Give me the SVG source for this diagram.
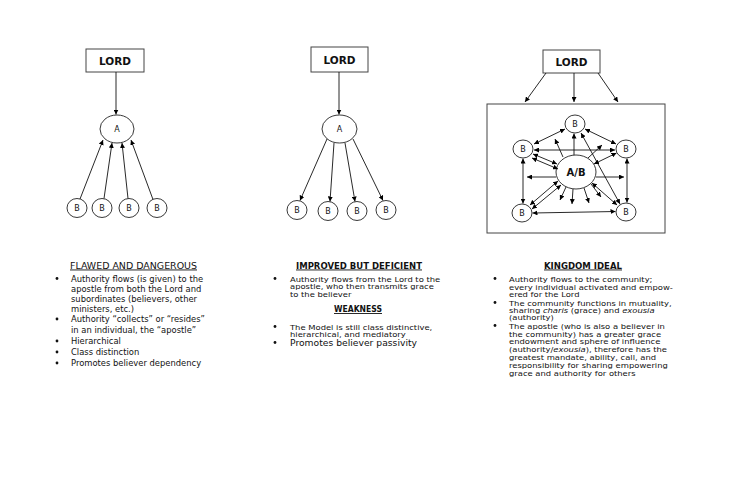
<svg xmlns="http://www.w3.org/2000/svg" width="754" height="480" viewBox="0 0 754 480">
<defs>
<marker id="ah" viewBox="0 0 10 10" refX="10" refY="5" markerWidth="5" markerHeight="5" markerUnits="userSpaceOnUse" orient="auto-start-reverse"><path d="M0,0 L10,5 L0,10 z" fill="#000"/></marker>
<style>
.box{fill:#fff;stroke:#444;stroke-width:1}
.nd{fill:#fff;stroke:#222;stroke-width:0.9}
.lord{font-family:"DejaVu Sans",sans-serif;font-weight:bold;font-size:10.5px;fill:#111;text-anchor:middle}
.lbl{font-family:"DejaVu Sans",sans-serif;font-size:8px;fill:#111;text-anchor:middle}
.lblb{font-family:"DejaVu Sans",sans-serif;font-weight:bold;font-size:10px;fill:#111;text-anchor:middle}
.c line{stroke:#111;stroke-width:0.9}
.s{marker-end:url(#ah)}
.d{marker-start:url(#ah);marker-end:url(#ah)}
.t{font-family:"DejaVu Sans",sans-serif;font-size:8.4px;fill:#111}
.tn{font-family:"DejaVu Sans",sans-serif;font-size:7.6px;fill:#111}
.h{font-family:"DejaVu Sans",sans-serif;font-size:9px;fill:#111;text-decoration:underline}
.hb{font-family:"DejaVu Sans",sans-serif;font-weight:bold;font-size:9px;fill:#111;text-decoration:underline}
.bul{fill:#111}
</style>
</defs>
<rect width="754" height="480" fill="#fff"/>

<!-- Left diagram -->
<g id="left-lord"><rect class="box" x="86" y="49" width="58" height="23"/><text class="lord" x="115" y="65">LORD</text></g>
<g id="left-a"><ellipse class="nd" cx="117" cy="129" rx="17" ry="14"/><text class="lbl" x="117" y="132">A</text></g>
<g id="left-b1"><ellipse class="nd" cx="77" cy="208" rx="10" ry="9.5"/><text class="lbl" x="77" y="211">B</text></g>
<g id="left-b2"><ellipse class="nd" cx="102" cy="208" rx="10" ry="9.5"/><text class="lbl" x="102" y="211">B</text></g>
<g id="left-b3"><ellipse class="nd" cx="129" cy="208" rx="10" ry="9.5"/><text class="lbl" x="129" y="211">B</text></g>
<g id="left-b4"><ellipse class="nd" cx="157" cy="208" rx="10" ry="9.5"/><text class="lbl" x="157" y="211">B</text></g>

<!-- Middle diagram -->
<g id="mid-lord"><rect class="box" x="311" y="47" width="57" height="25"/><text class="lord" x="339.5" y="64">LORD</text></g>
<g id="mid-a"><ellipse class="nd" cx="339.5" cy="129" rx="17.5" ry="14"/><text class="lbl" x="339.5" y="132">A</text></g>
<g id="mid-b1"><ellipse class="nd" cx="297" cy="210" rx="10" ry="9.5"/><text class="lbl" x="297" y="213">B</text></g>
<g id="mid-b2"><ellipse class="nd" cx="328" cy="211" rx="10" ry="9.5"/><text class="lbl" x="328" y="214">B</text></g>
<g id="mid-b3"><ellipse class="nd" cx="357" cy="211" rx="10" ry="9.5"/><text class="lbl" x="357" y="214">B</text></g>
<g id="mid-b4"><ellipse class="nd" cx="386" cy="210" rx="10" ry="9.5"/><text class="lbl" x="386" y="213">B</text></g>

<!-- Right diagram -->
<g id="right-lord"><rect class="box" x="543" y="50" width="57" height="23"/><text class="lord" x="571.5" y="65.5">LORD</text></g>
<g id="right-community"><rect class="box" x="487" y="104" width="178" height="129"/></g>
<g id="right-btop"><ellipse class="nd" cx="575" cy="124" rx="10" ry="9"/><text class="lbl" x="575" y="127">B</text></g>
<g id="right-bleft"><ellipse class="nd" cx="523" cy="149" rx="10" ry="9"/><text class="lbl" x="523" y="152">B</text></g>
<g id="right-bright"><ellipse class="nd" cx="626" cy="149" rx="10" ry="9"/><text class="lbl" x="626" y="152">B</text></g>
<g id="right-bbl"><ellipse class="nd" cx="522" cy="213" rx="10" ry="9"/><text class="lbl" x="522" y="216">B</text></g>
<g id="right-bbr"><ellipse class="nd" cx="626" cy="212" rx="10" ry="9"/><text class="lbl" x="626" y="215">B</text></g>
<g id="right-ab"><ellipse class="nd" cx="576" cy="172" rx="20" ry="17"/><text class="lblb" x="576" y="176">A/B</text></g>

<g id="connectors" class="c">
<!-- left -->
<line class="s" x1="116" y1="72" x2="116" y2="114.5"/>
<line class="s" x1="80" y1="199" x2="103" y2="140"/>
<line class="s" x1="104" y1="198.5" x2="112" y2="143"/>
<line class="s" x1="128" y1="198.5" x2="122" y2="143"/>
<line class="s" x1="153" y1="199.5" x2="131" y2="140"/>
<!-- middle -->
<line class="s" x1="339" y1="72" x2="339" y2="114.5"/>
<line class="s" x1="327" y1="139" x2="300" y2="200.5"/>
<line class="s" x1="334" y1="143" x2="330" y2="201.5"/>
<line class="s" x1="345" y1="143" x2="355" y2="201.5"/>
<line class="s" x1="353" y1="139" x2="383" y2="200.5"/>
<!-- right: from LORD -->
<line class="s" x1="546" y1="73" x2="525" y2="102"/>
<line class="s" x1="574" y1="73" x2="574" y2="102"/>
<line class="s" x1="598" y1="73" x2="618" y2="102"/>
<!-- right: community -->
<line class="d" x1="534" y1="144" x2="565" y2="129"/>
<line class="d" x1="585" y1="129" x2="616" y2="144"/>
<line class="d" x1="534" y1="150" x2="615" y2="150"/>
<line class="s" x1="574" y1="155" x2="574" y2="133.5"/>
<line class="d" x1="523" y1="158.5" x2="523" y2="203.5"/>
<line class="d" x1="627" y1="158.5" x2="627" y2="202.5"/>
<line class="d" x1="532.5" y1="213" x2="615.5" y2="211.5"/>
<line class="d" x1="581" y1="133" x2="620" y2="204"/>
<line class="d" x1="533" y1="154" x2="557" y2="164"/>
<line class="d" x1="532" y1="158" x2="558" y2="169"/>
<line class="d" x1="594" y1="164" x2="616.5" y2="153"/>
<line class="d" x1="558" y1="181" x2="530" y2="205"/>
<line class="d" x1="561" y1="185" x2="532" y2="209"/>
<line class="d" x1="592" y1="183" x2="617" y2="205"/>
<line class="s" x1="563" y1="157" x2="555" y2="139"/>
<line class="s" x1="588" y1="158" x2="602" y2="145"/>
<line class="s" x1="556" y1="177" x2="527" y2="177"/>
<line class="s" x1="596" y1="177" x2="624" y2="177"/>
<line class="s" x1="566" y1="187" x2="560" y2="200"/>
<line class="s" x1="573" y1="189" x2="572" y2="204"/>
<line class="s" x1="584" y1="188" x2="589" y2="203"/>
<line class="s" x1="591" y1="184" x2="601" y2="197"/>
</g>

<!-- Left text -->
<text class="h" x="70" y="268.5" textLength="127" lengthAdjust="spacingAndGlyphs">FLAWED AND DANGEROUS</text>
<g class="bul"><circle cx="57" cy="278.5" r="1.4"/><circle cx="57" cy="319" r="1.4"/><circle cx="57" cy="341" r="1.4"/><circle cx="57" cy="352" r="1.4"/><circle cx="57" cy="363" r="1.4"/></g>
<text class="t" x="71" y="281.5">Authority flows (is given) to the</text>
<text class="t" x="71" y="291.5">apostle from both the Lord and</text>
<text class="t" x="71" y="301.5">subordinates (believers, other</text>
<text class="t" x="71" y="311.5">ministers, etc.)</text>
<text class="t" x="71" y="322">Authority “collects” or “resides”</text>
<text class="t" x="71" y="333">in an individual, the “apostle”</text>
<text class="t" x="71" y="344">Hierarchical</text>
<text class="t" x="71" y="355">Class distinction</text>
<text class="t" x="71" y="366">Promotes believer dependency</text>

<!-- Middle text -->
<text class="hb" x="296" y="268.5" textLength="126" lengthAdjust="spacingAndGlyphs">IMPROVED BUT DEFICIENT</text>
<g class="bul"><circle cx="275" cy="278.5" r="1.4"/><circle cx="275" cy="326.5" r="1.4"/><circle cx="275" cy="342.5" r="1.4"/></g>
<g transform="matrix(1.105,0,0,1,-30.45,0)">
<text class="tn" x="290" y="282">Authority flows from the Lord to the</text>
<text class="tn" x="290" y="289.5">apostle, who then transmits grace</text>
<text class="tn" x="290" y="297">to the believer</text>
<text class="tn" x="290" y="330">The Model is still class distinctive,</text>
<text class="tn" x="290" y="337.5">hierarchical, and mediatory</text>
<text class="tn" x="290" y="346.5" style="font-size:8.35px">Promotes believer passivity</text>
</g>
<text class="hb" x="334" y="312" textLength="48" lengthAdjust="spacingAndGlyphs">WEAKNESS</text>

<!-- Right text -->
<text class="hb" x="544" y="268.5" textLength="78" lengthAdjust="spacingAndGlyphs">KINGDOM IDEAL</text>
<g class="bul"><circle cx="495" cy="278.5" r="1.4"/><circle cx="495" cy="302.5" r="1.4"/><circle cx="495" cy="325.5" r="1.4"/></g>
<g transform="matrix(1.105,0,0,1,-53.45,0)">
<text class="tn" x="509" y="282">Authority flows to the community;</text>
<text class="tn" x="509" y="290">every individual activated and empow-</text>
<text class="tn" x="509" y="297.5">ered for the Lord</text>
<text class="tn" x="509" y="306">The community functions in mutuality,</text>
<text class="tn" x="509" y="313.5">sharing <tspan font-style="italic">charis</tspan> (grace) and <tspan font-style="italic">exousia</tspan></text>
<text class="tn" x="509" y="320.5">(authority)</text>
<text class="tn" x="509" y="329">The apostle (who is also a believer in</text>
<text class="tn" x="509" y="337">the community) has a greater grace</text>
<text class="tn" x="509" y="344.5">endowment and sphere of influence</text>
<text class="tn" x="509" y="352.5">(authority/<tspan font-style="italic">exousia</tspan>), therefore has the</text>
<text class="tn" x="509" y="360.5">greatest mandate, ability, call, and</text>
<text class="tn" x="509" y="368.5">responsibility for sharing empowering</text>
<text class="tn" x="509" y="376.5">grace and authority for others</text>
</g>
</svg>
